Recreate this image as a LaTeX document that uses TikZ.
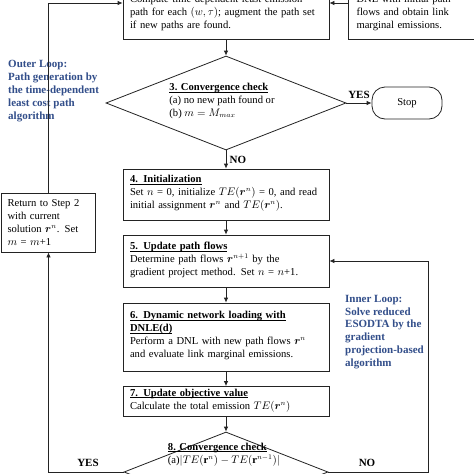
\documentclass[tikz,border=0pt]{standalone}
\usepackage{amsmath}
\usepackage{fontspec}
\setmainfont{Liberation Serif}
\usetikzlibrary{shapes.geometric,arrows.meta,calc}
\definecolor{loopblue}{RGB}{50,78,138}
\definecolor{linec}{RGB}{35,35,35}
\newcommand{\ttl}[1]{\underline{\smash{\textbf{#1}}\vphantom{x}}}
\begin{document}
\begin{tikzpicture}[x=1pt,y=-1pt,
  txt/.style={font=\fontsize{10.6}{13}\selectfont},
  box/.style={txt, draw=linec, line width=0.8pt, rectangle, inner xsep=7pt, inner ysep=0pt, align=left},
  dia/.style={draw=linec, line width=0.8pt, diamond, inner sep=0pt},
  lbl/.style={font=\fontsize{11}{12.8}\selectfont\bfseries},
  bluetxt/.style={font=\fontsize{11}{12.9}\selectfont\bfseries, text=loopblue, align=left, inner sep=0pt},
  arr/.style={draw=linec, line width=0.8pt, -{Latex[length=5pt,width=4.5pt]}}
]
\useasboundingbox (0,0) rectangle (474,474);
\clip (0,0) rectangle (474,474);
\fill[white] (0,0) rectangle (474,474);

% loop labels (drawn before lines)
\node[bluetxt, anchor=west] (outer) at (8,91) {Outer Loop:\\Path generation by\\the time-dependent\\least cost path\\algorithm};
\node[bluetxt, anchor=west] (inner) at (345,332) {Inner Loop:\\Solve reduced\\ESODTA by the\\gradient\\projection-based\\algorithm};

% boxes
\node[box, minimum width=206pt, minimum height=52pt, text width=192pt] (b2) at (226,13)
  {Compute time-dependent least emission\\path for each $(w,\tau)$; augment the path set\\if new paths are found.};
\node[box, minimum width=150pt, minimum height=52pt, text width=135pt, inner xsep=8pt] (b1) at (424,13)
  {DNL with initial path\\flows and obtain link\\marginal emissions.};

\node[dia, minimum width=240pt, minimum height=94pt] (d3) at (226,103) {};
\node[txt, align=left, inner sep=0pt] (d3t) at (222,102)
  {\ttl{3. Convergence check}\\(a) no new path found or\\(b) $m = M_{max}$};

\node[box, draw=linec, rounded corners=13pt, minimum width=70pt, minimum height=32pt, align=center] (stop) at (407,103) {Stop};

\node[box, minimum width=206pt, minimum height=51pt, text width=192pt] (b4) at (226,194.5)
  {\ttl{4. Initialization}\\Set $n$ = 0, initialize $TE(\boldsymbol{r}^n)$ = 0, and read\\initial assignment $\boldsymbol{r}^n$ and $TE(\boldsymbol{r}^n)$.};
\node[box, minimum width=206pt, minimum height=52pt, text width=192pt] (b5) at (226,261)
  {\ttl{5. Update path flows}\\Determine path flows $\boldsymbol{r}^{n+1}$ by the\\gradient project method. Set $n$ = $n$+1.};
\node[box, minimum width=206pt, minimum height=68pt, text width=192pt] (b6) at (226,337)
  {\ttl{6. Dynamic network loading with}\\\ttl{DNLE(d)}\\Perform a DNL with new path flows $\boldsymbol{r}^n$\\and evaluate link marginal emissions.};
\node[box, minimum width=206pt, minimum height=30pt, text width=192pt] (b7) at (226,401.5)
  {\ttl{7. Update objective value}\\Calculate the total emission $TE(\boldsymbol{r}^n)$};

\node[dia, minimum width=204pt, minimum height=80pt] (d8) at (226,472) {};
\node[txt, align=left, inner sep=0pt, anchor=north] (d8t) at (224,445)
  {\ttl{8. Convergence check}\\(a)$|TE(\mathbf{r}^n) - TE(\mathbf{r}^{n-1})|$};

\node[box, minimum width=94pt, minimum height=59pt, text width=82pt, inner xsep=6pt] (ret) at (48.5,222.5)
  {Return to Step 2\\with current\\solution $\boldsymbol{r}^n$. Set\\$m$ = $m$+1};

% helper coordinates
\coordinate (top) at (0,3);
\coordinate (rx) at (428,0);

% connectors
\draw[arr] (b1.west |- top) -- (b2.east |- top);
\draw[arr] (ret.north) -- (ret.north |- top) -- (b2.west |- top);
\draw[arr] (b2.south) -- (d3.north);
\draw[arr] (d3.east) -- (stop.west) node[lbl, midway, above=1pt] {YES};
\draw[arr] (d3.south) -- (b4.north) node[lbl, midway, right=0pt] {NO};
\draw[arr] (b4.south) -- (b5.north);
\draw[arr] (b5.south) -- (b6.north);
\draw[arr] (b6.south) -- (b7.north);
\draw[arr] (b7.south) -- (d8.north);
\draw[arr] (d8.west) -- (d8.west -| ret.south) -- (ret.south);
\draw[arr] (d8.east) -- (d8.east -| rx) -- (rx |- b5.east) -- (b5.east);
\node[lbl] (yes8) at (88,463) {YES};
\node[lbl] (no8) at (367,463) {NO};
\end{tikzpicture}
\end{document}
